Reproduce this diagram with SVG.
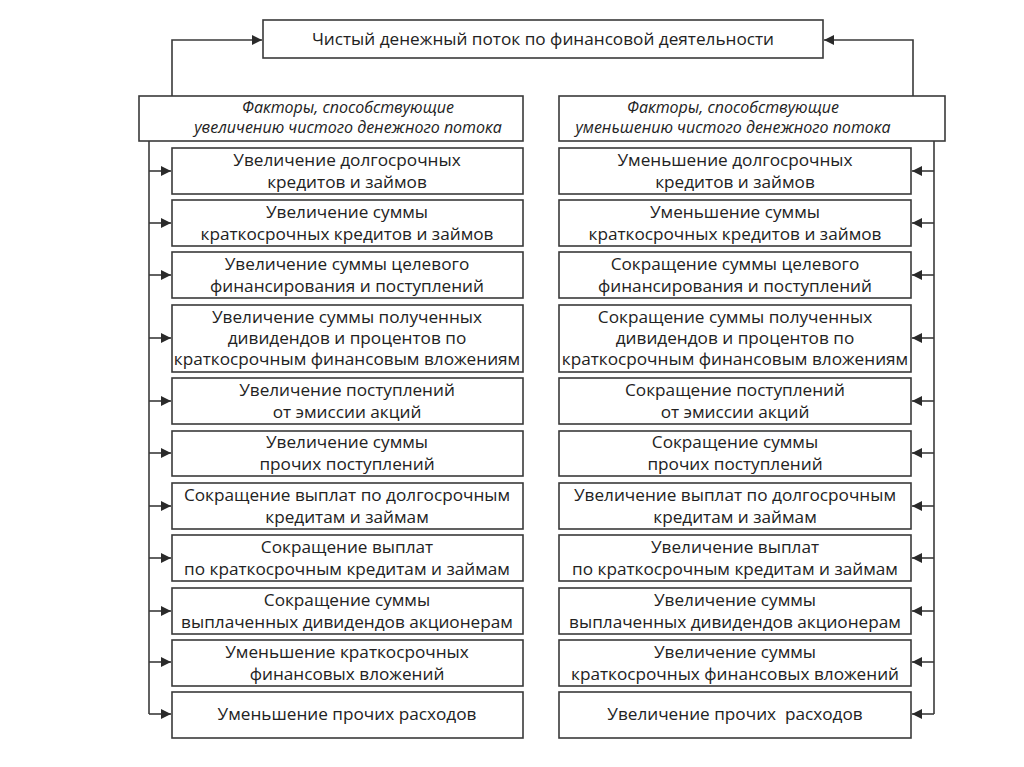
<svg xmlns="http://www.w3.org/2000/svg" width="1024" height="767" viewBox="0 0 1024 767">
<style>
.box{fill:#fff;stroke:#3a3a3a;stroke-width:1.6}
.t{font-family:"Open Sans","Noto Sans",sans-serif;font-size:17.2px;fill:#222;text-anchor:middle}
.h{font-family:"Open Sans","Noto Sans",sans-serif;font-size:16px;font-style:italic;fill:#222;text-anchor:middle}
.ln{fill:none;stroke:#3a3a3a;stroke-width:1.6}
</style>
<defs>
<marker id="ah" viewBox="0 0 10 10" refX="10" refY="5" markerWidth="10" markerHeight="10" markerUnits="userSpaceOnUse" orient="auto">
<path d="M0,0 L10,5 L0,10 z" fill="#2a2a2a"/>
</marker>
</defs>
<rect width="1024" height="767" fill="#fff"/>
<g id="connectors">
<path class="ln" d="M172,96 V40 H262" marker-end="url(#ah)"/>
<path class="ln" d="M913,96 V40 H824" marker-end="url(#ah)"/>
<path class="ln" d="M149,141 V714"/>
<path class="ln" d="M934,141 V714"/>
<path class="ln" d="M149,171 H171" marker-end="url(#ah)"/>
<path class="ln" d="M149,223 H171" marker-end="url(#ah)"/>
<path class="ln" d="M149,275 H171" marker-end="url(#ah)"/>
<path class="ln" d="M149,338 H171" marker-end="url(#ah)"/>
<path class="ln" d="M149,401 H171" marker-end="url(#ah)"/>
<path class="ln" d="M149,453 H171" marker-end="url(#ah)"/>
<path class="ln" d="M149,506 H171" marker-end="url(#ah)"/>
<path class="ln" d="M149,558 H171" marker-end="url(#ah)"/>
<path class="ln" d="M149,611 H171" marker-end="url(#ah)"/>
<path class="ln" d="M149,662 H171" marker-end="url(#ah)"/>
<path class="ln" d="M149,714 H171" marker-end="url(#ah)"/>
<path class="ln" d="M934,171 H912" marker-end="url(#ah)"/>
<path class="ln" d="M934,223 H912" marker-end="url(#ah)"/>
<path class="ln" d="M934,275 H912" marker-end="url(#ah)"/>
<path class="ln" d="M934,338 H912" marker-end="url(#ah)"/>
<path class="ln" d="M934,401 H912" marker-end="url(#ah)"/>
<path class="ln" d="M934,453 H912" marker-end="url(#ah)"/>
<path class="ln" d="M934,506 H912" marker-end="url(#ah)"/>
<path class="ln" d="M934,558 H912" marker-end="url(#ah)"/>
<path class="ln" d="M934,611 H912" marker-end="url(#ah)"/>
<path class="ln" d="M934,662 H912" marker-end="url(#ah)"/>
<path class="ln" d="M934,714 H912" marker-end="url(#ah)"/>
</g>
<g id="title"><rect class="box" x="263" y="20" width="560" height="38"/><text class="t" x="543" y="45">Чистый денежный поток по финансовой деятельности</text></g>
<g id="hdrL"><rect class="box" x="139" y="96" width="384" height="45"/><text class="h" x="348" y="113">Факторы, способствующие</text><text class="h" x="348" y="133">увеличению чистого денежного потока</text></g>
<g id="hdrR"><rect class="box" x="559" y="96" width="386" height="45"/><text class="h" x="733" y="113">Факторы, способствующие</text><text class="h" x="733" y="133">уменьшению чистого денежного потока</text></g>

<g id="L1"><rect class="box" x="172" y="148" width="351" height="46"/><text class="t" x="347" y="166">Увеличение долгосрочных</text><text class="t" x="347" y="188">кредитов и займов</text></g>
<g id="L2"><rect class="box" x="172" y="200" width="351" height="46"/><text class="t" x="347" y="218">Увеличение суммы</text><text class="t" x="347" y="240">краткосрочных кредитов и займов</text></g>
<g id="L3"><rect class="box" x="172" y="252" width="351" height="46"/><text class="t" x="347" y="270">Увеличение суммы целевого</text><text class="t" x="347" y="292">финансирования и поступлений</text></g>
<g id="L4"><rect class="box" x="172" y="305" width="351" height="67"/><text class="t" x="347" y="323">Увеличение суммы полученных</text><text class="t" x="347" y="344">дивидендов и процентов по</text><text class="t" x="347" y="365">краткосрочным финансовым вложениям</text></g>
<g id="L5"><rect class="box" x="172" y="378" width="351" height="46"/><text class="t" x="347" y="396">Увеличение поступлений</text><text class="t" x="347" y="418">от эмиссии акций</text></g>
<g id="L6"><rect class="box" x="172" y="431" width="351" height="45"/><text class="t" x="347" y="448">Увеличение суммы</text><text class="t" x="347" y="470">прочих поступлений</text></g>
<g id="L7"><rect class="box" x="172" y="483" width="351" height="46"/><text class="t" x="347" y="501">Сокращение выплат по долгосрочным</text><text class="t" x="347" y="523">кредитам и займам</text></g>
<g id="L8"><rect class="box" x="172" y="535" width="351" height="46"/><text class="t" x="347" y="553">Сокращение выплат</text><text class="t" x="347" y="575">по краткосрочным кредитам и займам</text></g>
<g id="L9"><rect class="box" x="172" y="588" width="351" height="46"/><text class="t" x="347" y="606">Сокращение суммы</text><text class="t" x="347" y="628">выплаченных дивидендов акционерам</text></g>
<g id="L10"><rect class="box" x="172" y="640" width="351" height="46"/><text class="t" x="347" y="658">Уменьшение краткосрочных</text><text class="t" x="347" y="680">финансовых вложений</text></g>
<g id="L11"><rect class="box" x="172" y="692" width="351" height="46"/><text class="t" x="347" y="720">Уменьшение прочих расходов</text></g>

<g id="R1"><rect class="box" x="559" y="148" width="352" height="46"/><text class="t" x="735" y="166">Уменьшение долгосрочных</text><text class="t" x="735" y="188">кредитов и займов</text></g>
<g id="R2"><rect class="box" x="559" y="200" width="352" height="46"/><text class="t" x="735" y="218">Уменьшение суммы</text><text class="t" x="735" y="240">краткосрочных кредитов и займов</text></g>
<g id="R3"><rect class="box" x="559" y="252" width="352" height="46"/><text class="t" x="735" y="270">Сокращение суммы целевого</text><text class="t" x="735" y="292">финансирования и поступлений</text></g>
<g id="R4"><rect class="box" x="559" y="305" width="352" height="67"/><text class="t" x="735" y="323">Сокращение суммы полученных</text><text class="t" x="735" y="344">дивидендов и процентов по</text><text class="t" x="735" y="365">краткосрочным финансовым вложениям</text></g>
<g id="R5"><rect class="box" x="559" y="378" width="352" height="46"/><text class="t" x="735" y="396">Сокращение поступлений</text><text class="t" x="735" y="418">от эмиссии акций</text></g>
<g id="R6"><rect class="box" x="559" y="431" width="352" height="45"/><text class="t" x="735" y="448">Сокращение суммы</text><text class="t" x="735" y="470">прочих поступлений</text></g>
<g id="R7"><rect class="box" x="559" y="483" width="352" height="46"/><text class="t" x="735" y="501">Увеличение выплат по долгосрочным</text><text class="t" x="735" y="523">кредитам и займам</text></g>
<g id="R8"><rect class="box" x="559" y="535" width="352" height="46"/><text class="t" x="735" y="553">Увеличение выплат</text><text class="t" x="735" y="575">по краткосрочным кредитам и займам</text></g>
<g id="R9"><rect class="box" x="559" y="588" width="352" height="46"/><text class="t" x="735" y="606">Увеличение суммы</text><text class="t" x="735" y="628">выплаченных дивидендов акционерам</text></g>
<g id="R10"><rect class="box" x="559" y="640" width="352" height="46"/><text class="t" x="735" y="658">Увеличение суммы</text><text class="t" x="735" y="680">краткосрочных финансовых вложений</text></g>
<g id="R11"><rect class="box" x="559" y="692" width="352" height="46"/><text class="t" x="735" y="720" style="white-space:pre">Увеличение прочих  расходов</text></g>
</svg>
